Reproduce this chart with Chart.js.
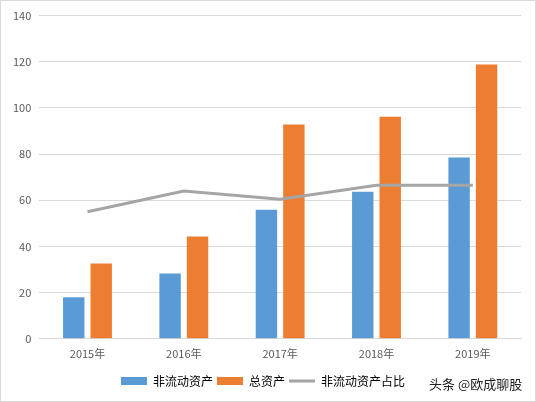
<!DOCTYPE html>
<html>
<head>
<meta charset="utf-8">
<script src="https://cdn.jsdelivr.net/npm/chart.js@4/dist/chart.umd.min.js"></script>
<style>
html,body{margin:0;padding:0;background:#fff;}
#wrap{position:relative;width:536px;height:402px;box-sizing:border-box;border:1px solid #d9d9d9;background:#fff;}
#c{position:absolute;left:0;top:0;}
#wm{position:absolute;left:428px;top:373px;font-family:"Noto Sans CJK SC",sans-serif;font-size:13px;color:#222;text-shadow:0 0 2px #fff;}
</style>
</head>
<body>
<div id="wrap">
<canvas id="c" width="534" height="400"></canvas>
<div id="wm">头条 @欧成聊股</div>
</div>
<script>
const categories = ["2015年","2016年","2017年","2018年","2019年"];
const nonCurrentAssets = [18, 28.3, 55.9, 63.7, 78.5];
const totalAssets = [32.6, 44.3, 92.8, 96.2, 118.8];
const nonCurrentRatio = [55, 64, 60.5, 66.5, 66.5];
const seriesNames = ["非流动资产","总资产","非流动资产占比"];

const FONT = '"Noto Sans CJK SC", "Noto Sans", sans-serif';
Chart.defaults.font.family = FONT;
Chart.defaults.font.size = 12;
Chart.defaults.color = '#595959';

new Chart(document.getElementById('c'), {
  data: {
    labels: categories,
    datasets: [
      {type:'bar', label: seriesNames[0], data: nonCurrentAssets, backgroundColor:'#5B9BD5', categoryPercentage:0.57, barPercentage:0.78, order:2},
      {type:'bar', label: seriesNames[1], data: totalAssets, backgroundColor:'#ED7D31', categoryPercentage:0.57, barPercentage:0.78, order:2},
      {type:'line', label: seriesNames[2], data: nonCurrentRatio, borderColor:'#A5A5A5', backgroundColor:'#A5A5A5', borderWidth:3, pointRadius:0, tension:0, order:1}
    ]
  },
  options: {
    responsive:false,
    animation:false,
    layout:{padding:{left:4, right:14, top:6, bottom:4}},
    plugins:{
      tooltip:{enabled:false},
      legend:{
        position:'bottom',
        labels:{
          usePointStyle:true,
          pointStyleWidth:26,
          boxHeight:8,
          padding:4,
          color:'#595959',
          font:{size:12, family:FONT},
          generateLabels(chart){
            return chart.data.datasets.map((d,i)=>({
              text:d.label,
              fillStyle: d.type==='line' ? 'rgba(0,0,0,0)' : d.backgroundColor,
              strokeStyle: d.type==='line' ? d.borderColor : d.backgroundColor,
              lineWidth: d.type==='line' ? 3 : 0,
              pointStyle: d.type==='line' ? 'line' : 'rect',
              datasetIndex:i,
              hidden:false
            }));
          }
        }
      }
    },
    scales:{
      x:{
        grid:{display:false, drawTicks:false},
        border:{display:true, color:'#d9d9d9', width:1},
        ticks:{padding:8, color:'#595959', font:{size:11}},
        afterFit(scale){ scale.height += 3; }
      },
      y:{
        min:0, max:140,
        ticks:{stepSize:20, padding:8, color:'#595959', font:{size:11}},
        grid:{color:'#d9d9d9', drawTicks:false, lineWidth:1},
        border:{display:false}
      }
    }
  }
});
</script>
</body>
</html>
